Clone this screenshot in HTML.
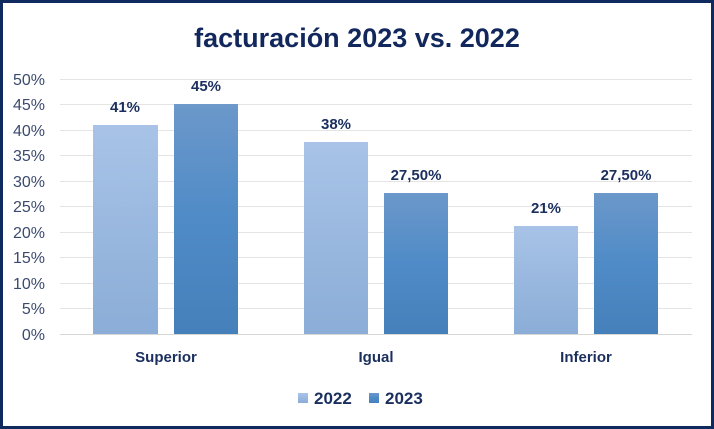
<!DOCTYPE html>
<html><head><meta charset="utf-8"><style>
html,body{margin:0;padding:0;background:#fff;}
svg{display:block;font-family:"Liberation Sans",sans-serif;}
</style></head><body>
<svg width="714" height="429" viewBox="0 0 714 429" xmlns="http://www.w3.org/2000/svg">
<defs>
<linearGradient id="g1" x1="0" y1="0" x2="0" y2="1"><stop offset="0" stop-color="#a8c3e7"/><stop offset="1" stop-color="#8badd7"/></linearGradient>
<linearGradient id="g2" x1="0" y1="0" x2="0" y2="1"><stop offset="0" stop-color="#6c98ca"/><stop offset="0.5" stop-color="#4f8bc7"/><stop offset="1" stop-color="#4680bb"/></linearGradient>
</defs>
<rect x="0" y="0" width="714" height="429" fill="#fff"/>
<rect x="1.5" y="1.5" width="711" height="426" fill="none" stroke="#0f2a5e" stroke-width="3"/>
<text x="357" y="47" text-anchor="middle" font-size="27" font-weight="bold" fill="#12285c">facturación 2023 vs. 2022</text>
<g stroke="#e4e4e4" stroke-width="1">
<line x1="60" x2="692" y1="79.5" y2="79.5"/><line x1="60" x2="692" y1="104.5" y2="104.5"/>
<line x1="60" x2="692" y1="130.5" y2="130.5"/><line x1="60" x2="692" y1="155.5" y2="155.5"/>
<line x1="60" x2="692" y1="181.5" y2="181.5"/><line x1="60" x2="692" y1="206.5" y2="206.5"/>
<line x1="60" x2="692" y1="232.5" y2="232.5"/><line x1="60" x2="692" y1="257.5" y2="257.5"/>
<line x1="60" x2="692" y1="283.5" y2="283.5"/><line x1="60" x2="692" y1="308.5" y2="308.5"/>
</g>
<line x1="60" x2="692" y1="334.5" y2="334.5" stroke="#d6d6d6"/>
<g font-size="16" fill="#3a4a6e" text-anchor="end">
<text x="45" y="85">50%</text><text x="45" y="110">45%</text><text x="45" y="136">40%</text>
<text x="45" y="161">35%</text><text x="45" y="187">30%</text><text x="45" y="212">25%</text>
<text x="45" y="238">20%</text><text x="45" y="263">15%</text><text x="45" y="289">10%</text>
<text x="45" y="314">5%</text><text x="45" y="340">0%</text>
</g>
<rect x="93" y="125" width="65" height="209" fill="url(#g1)"/>
<rect x="174" y="104" width="64" height="230" fill="url(#g2)"/>
<rect x="304" y="142" width="64" height="192" fill="url(#g1)"/>
<rect x="384" y="193" width="64" height="141" fill="url(#g2)"/>
<rect x="514" y="226" width="64" height="108" fill="url(#g1)"/>
<rect x="594" y="193" width="64" height="141" fill="url(#g2)"/>
<g font-size="15" font-weight="bold" fill="#1a2f5e" text-anchor="middle">
<text x="125" y="112">41%</text><text x="206" y="91">45%</text>
<text x="336" y="129">38%</text><text x="416" y="180">27,50%</text>
<text x="546" y="213">21%</text><text x="626" y="180">27,50%</text>
<text x="166" y="362">Superior</text><text x="376" y="362">Igual</text><text x="586" y="362">Inferior</text>
</g>
<rect x="298" y="393" width="10" height="10" fill="url(#g1)"/>
<text x="314" y="404" font-size="17" font-weight="bold" fill="#1a2f5e">2022</text>
<rect x="369" y="393" width="10" height="10" fill="url(#g2)"/>
<text x="385" y="404" font-size="17" font-weight="bold" fill="#1a2f5e">2023</text>
</svg>
</body></html>
